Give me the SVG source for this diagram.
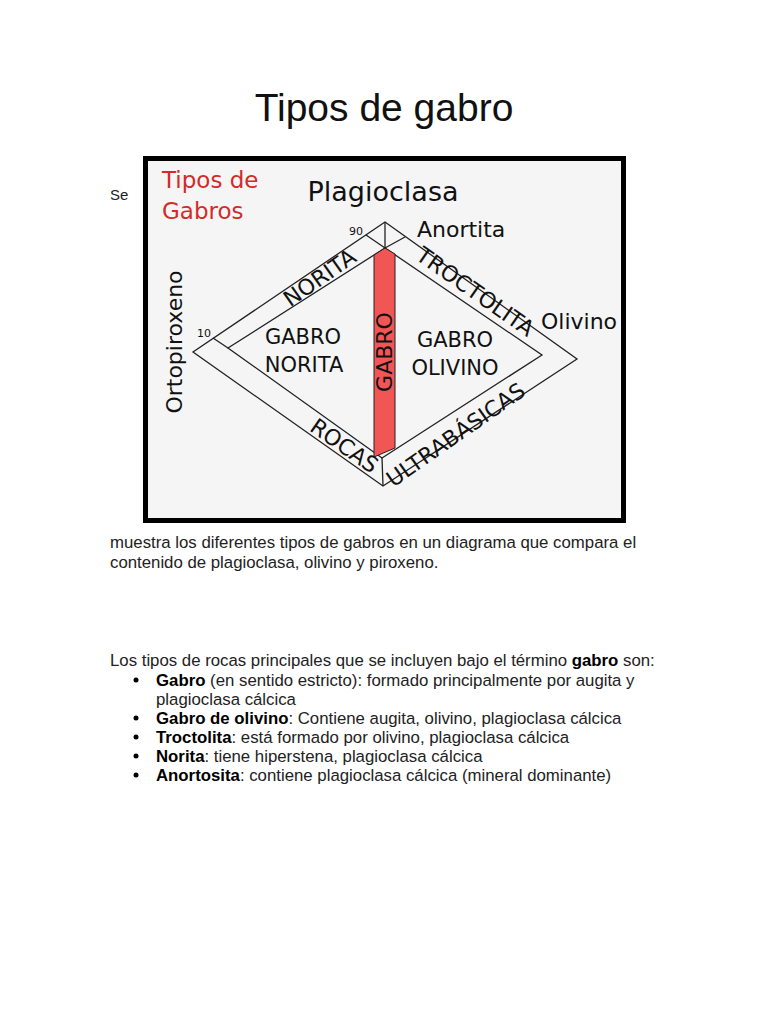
<svg xmlns="http://www.w3.org/2000/svg" width="768" height="1024" viewBox="0 0 768 1024">
<style>
.t{font-family:"Liberation Sans",Arial,sans-serif;font-size:16.8px;fill:#222}
.b{font-weight:bold;fill:#000}
.d{font-family:"DejaVu Sans",Verdana,sans-serif;fill:#111}
.ln{fill:none;stroke:#222;stroke-width:1.3}
</style>
<rect width="768" height="1024" fill="#fff"/>
<text x="384" y="121" text-anchor="middle" font-family="Liberation Sans,Arial,sans-serif" font-size="39" fill="#111">Tipos de gabro</text>
<text class="t" x="110" y="200" font-size="15" style="font-size:15px">Se</text>
<g id="diagram">
<rect x="145.5" y="158.5" width="478" height="362" fill="#f5f5f5" stroke="#000" stroke-width="5"/>
<text class="d" x="162" y="188" font-size="23" style="fill:#d42a2a">Tipos de</text>
<text class="d" x="162" y="219" font-size="23" style="fill:#d42a2a">Gabros</text>
<text class="d" x="383" y="201" font-size="27" text-anchor="middle">Plagioclasa</text>
<text class="d" x="417" y="237" font-size="22">Anortita</text>
<text class="d" x="541" y="329" font-size="22">Olivino</text>
<text class="d" x="176" y="342" font-size="22" text-anchor="middle" transform="rotate(-90 176 342)" dominant-baseline="middle">Ortopiroxeno</text>
<text class="d" x="349" y="235" font-size="11">90</text>
<text class="d" x="197" y="337" font-size="11">10</text>
<g id="connectors">
<polygon class="ln" points="385,222 577,359 383,486 193,352"/>
<polygon class="ln" points="385,248 542,355 382,458 228,348"/>
<line class="ln" x1="385" y1="222" x2="385" y2="248"/>
<line class="ln" x1="366" y1="235" x2="385" y2="248"/>
<line class="ln" x1="405" y1="237" x2="385" y2="248"/>
<line class="ln" x1="213" y1="338" x2="228" y2="348"/>
<line class="ln" x1="382" y1="458" x2="383" y2="486"/>
</g>
<polygon points="385,248 395,254 395,448 374,457 374,255" fill="#f25555" stroke="#222" stroke-width="1"/>
<text class="d" x="386" y="352" font-size="22" text-anchor="middle" dominant-baseline="middle" transform="rotate(-90 386 352)">GABRO</text>
<text class="d" x="303" y="344" font-size="21" text-anchor="middle">GABRO</text>
<text class="d" x="304" y="372" font-size="21" text-anchor="middle">NORITA</text>
<text class="d" x="455" y="347" font-size="21" text-anchor="middle">GABRO</text>
<text class="d" x="455" y="375" font-size="21" text-anchor="middle">OLIVINO</text>
<text class="d" x="0" y="0" font-size="22" text-anchor="middle" transform="translate(324 284) rotate(-35)">NORITA</text>
<text class="d" x="0" y="0" font-size="22" text-anchor="middle" transform="translate(471 298) rotate(35)">TROCTOLITA</text>
<text class="d" x="0" y="0" font-size="22" text-anchor="middle" transform="translate(340 452) rotate(35)">ROCAS</text>
<text class="d" x="0" y="0" font-size="22" text-anchor="middle" transform="translate(460 441) rotate(-35)">ULTRABÁSICAS</text>
</g>
<text class="t" x="110" y="548">muestra los diferentes tipos de gabros en un diagrama que compara el</text>
<text class="t" x="110" y="568">contenido de plagioclasa, olivino y piroxeno.</text>
<text class="t" x="110" y="666">Los tipos de rocas principales que se incluyen bajo el término <tspan class="b">gabro</tspan> son:</text>
<circle cx="136" cy="680" r="2.5" fill="#000"/>
<text class="t" x="156" y="686"><tspan class="b">Gabro</tspan> (en sentido estricto): formado principalmente por augita y</text>
<text class="t" x="156" y="705">plagioclasa cálcica</text>
<circle cx="136" cy="718" r="2.5" fill="#000"/>
<text class="t" x="156" y="724"><tspan class="b">Gabro de olivino</tspan>: Contiene augita, olivino, plagioclasa cálcica</text>
<circle cx="136" cy="737" r="2.5" fill="#000"/>
<text class="t" x="156" y="743"><tspan class="b">Troctolita</tspan>: está formado por olivino, plagioclasa cálcica</text>
<circle cx="136" cy="756" r="2.5" fill="#000"/>
<text class="t" x="156" y="762"><tspan class="b">Norita</tspan>: tiene hiperstena, plagioclasa cálcica</text>
<circle cx="136" cy="775" r="2.5" fill="#000"/>
<text class="t" x="156" y="781"><tspan class="b">Anortosita</tspan>: contiene plagioclasa cálcica (mineral dominante)</text>
</svg>
